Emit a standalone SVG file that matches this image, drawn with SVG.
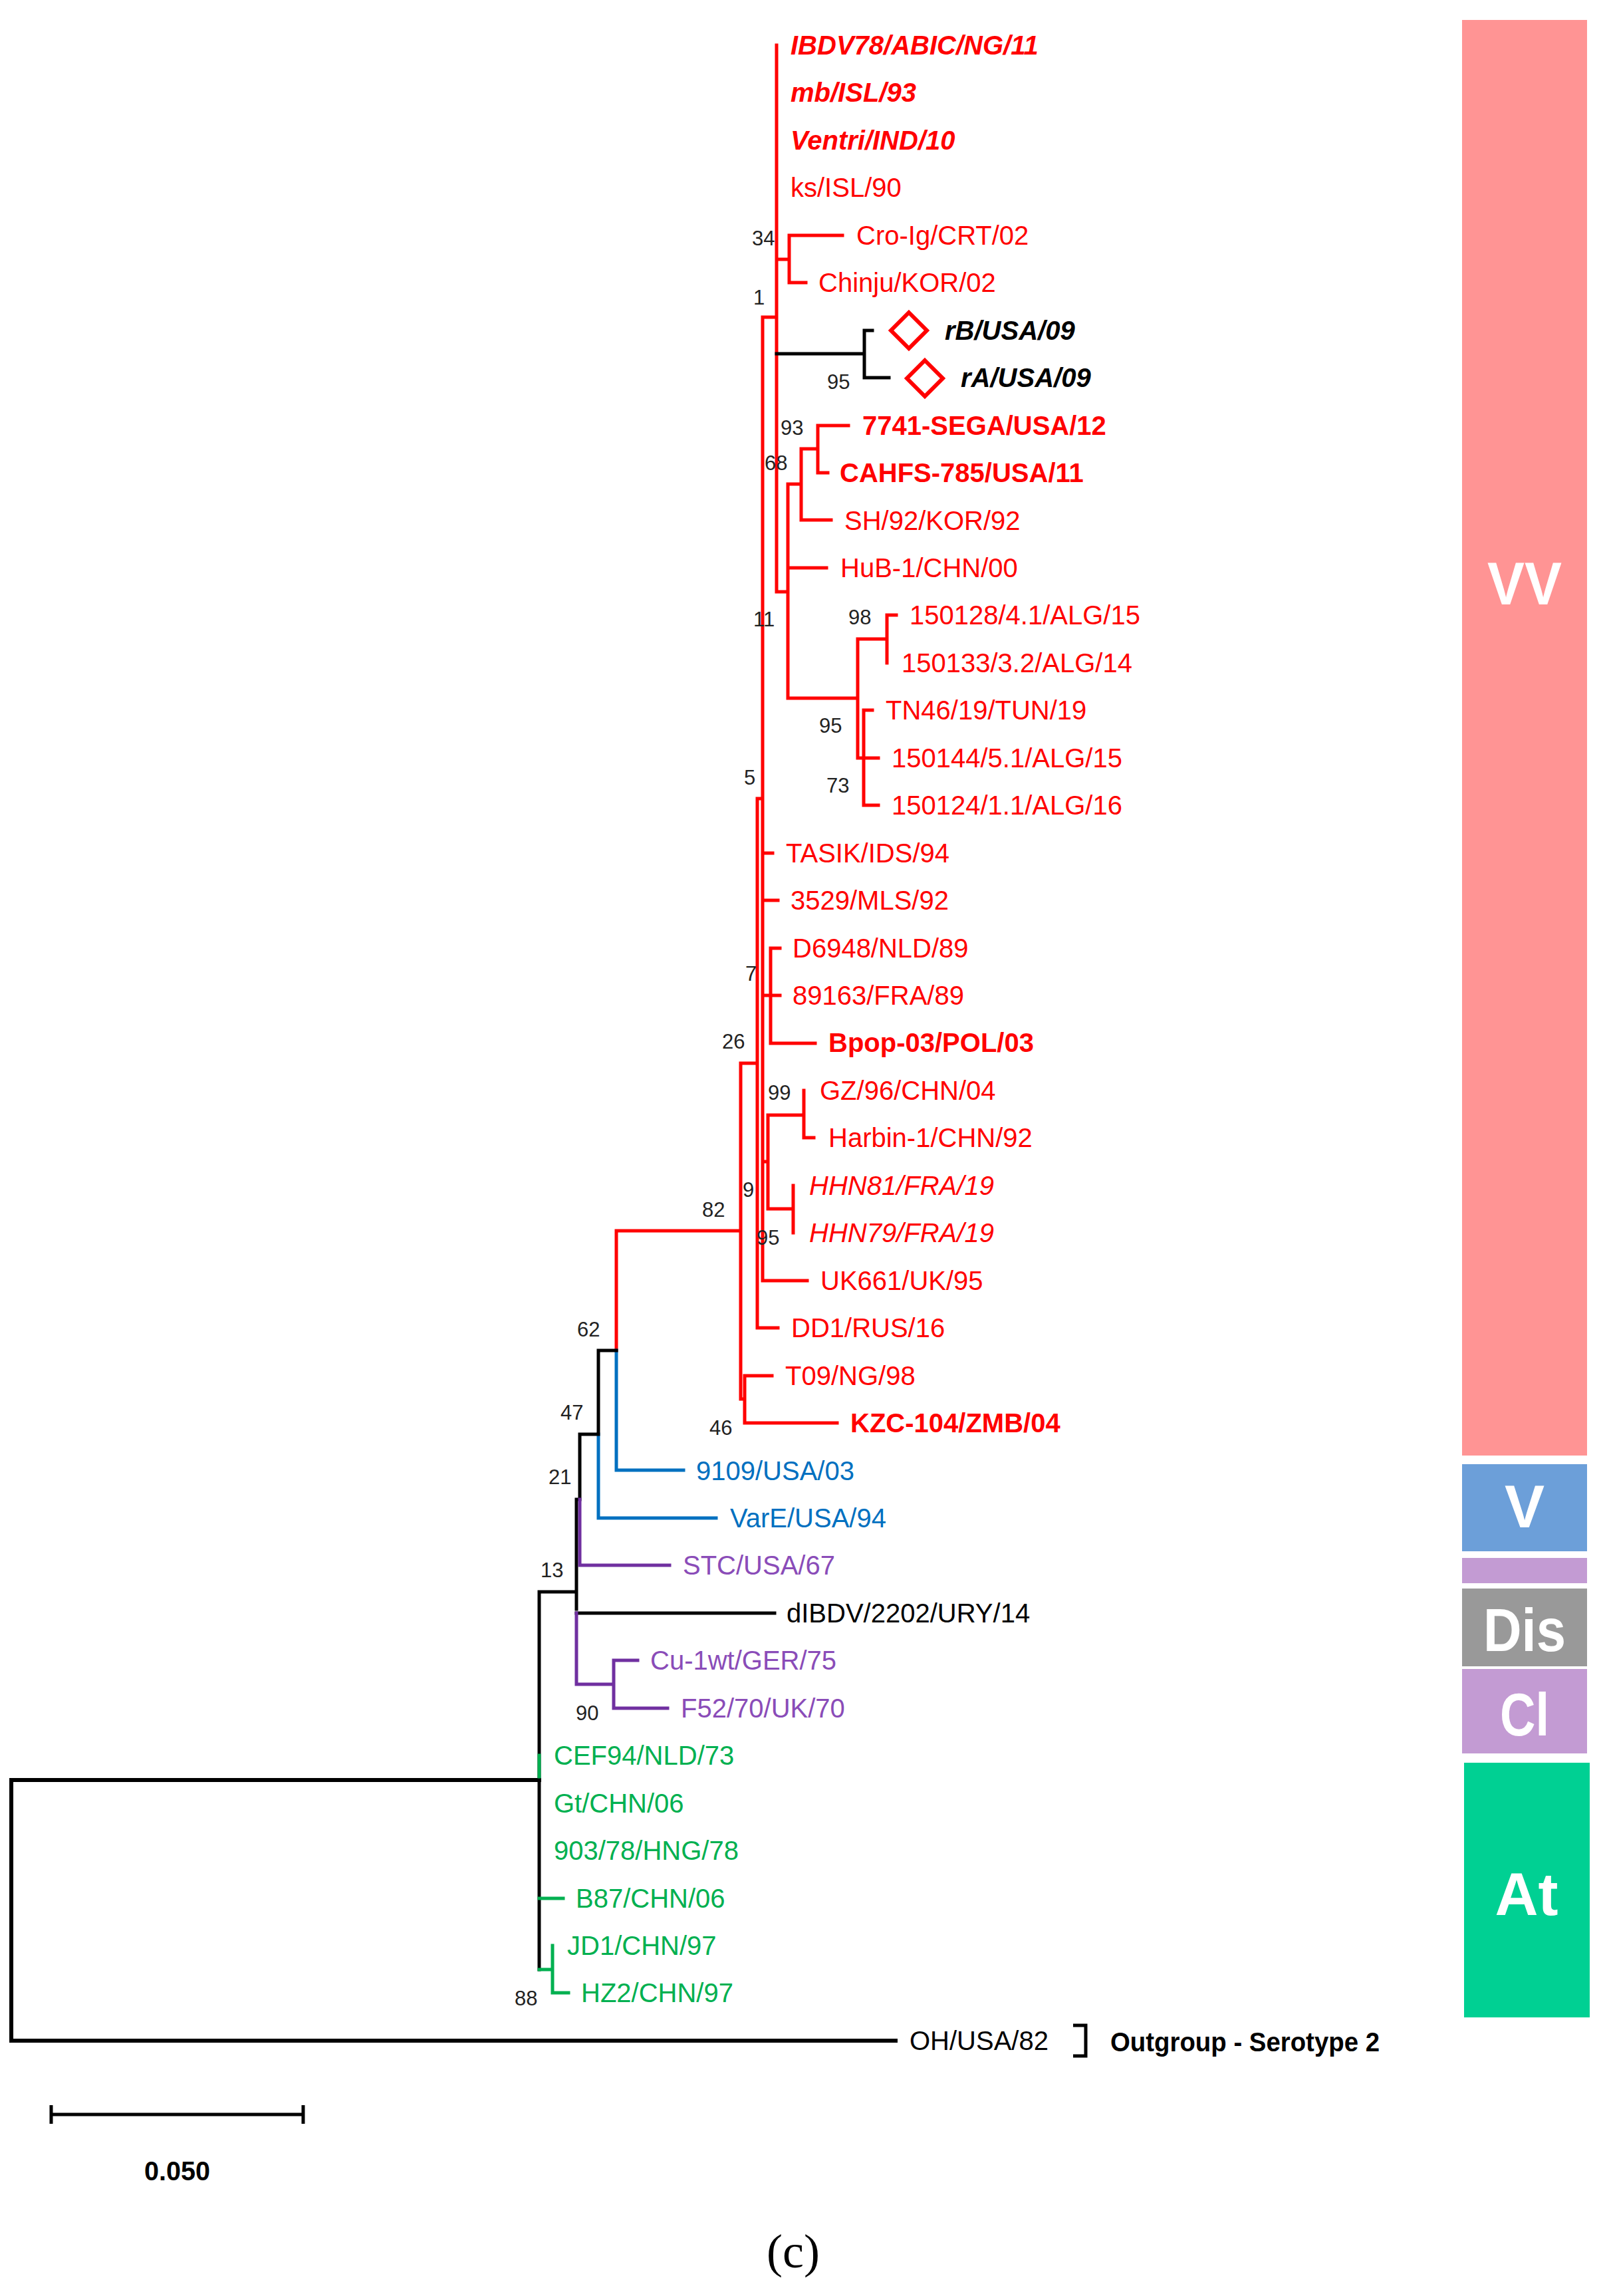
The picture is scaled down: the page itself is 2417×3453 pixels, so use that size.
<svg xmlns="http://www.w3.org/2000/svg" width="2417" height="3453" viewBox="0 0 2417 3453">
<style>
.lbl{font-family:"Liberation Sans",Arial,sans-serif;font-size:40px}
.b{font-weight:bold}
.i{font-style:italic}
.r{fill:#FF0000}
.k{fill:#000000}
.bl{fill:#0070C0}
.p{fill:#8A4CB8}
.g{fill:#00B050}
.bs{font-family:"Liberation Sans",Arial,sans-serif;font-size:31px;fill:#222222}
.br{fill:none;stroke-width:5;stroke-linecap:square}
.sr{stroke:#FF0000}
.sk{stroke:#000000}
.sb{stroke:#0070C0}
.sp{stroke:#7030A0}
.sg{stroke:#00B050}
.bar text{font-family:"Liberation Sans",Arial,sans-serif;font-weight:bold;font-size:90px;fill:#FFFFFF;text-anchor:middle}
</style>
<rect width="2417" height="3453" fill="#FFFFFF"/>
<g id="connectors">
<path class="br sr" d="M1168 68 V890 M1168 390 H1187 M1187 354 V425 M1187 354 H1267 M1187 425 H1212 M1168 890 H1185 M1185 728 V1050 M1185 728 H1205 M1205 675 V782 M1205 675 H1230 M1230 640 V711 M1230 640 H1276 M1230 711 H1245 M1205 782 H1250 M1185 854 H1243 M1185 1050 H1290 M1290 961 V1140 M1290 961 H1334 M1334 925 V997 M1334 925 H1348 M1290 1140 H1299 M1299 1068 V1211 M1299 1068 H1312 M1299 1140 H1321 M1299 1211 H1321 M1147 477 H1168 M1147 477 V1926 M1147 1283 H1162 M1147 1354 H1170 M1147 1497 H1159 M1159 1426 V1569 M1159 1426 H1173 M1159 1497 H1173 M1159 1569 H1226 M1147 1747 H1155 M1155 1677 V1818 M1155 1677 H1209 M1209 1640 V1711 M1209 1711 H1224 M1155 1818 H1193 M1193 1783 V1854 M1147 1926 H1214 M1139 1201 H1147 M1139 1201 V1997 M1139 1997 H1170 M1114 1599 H1139 M1114 1599 V2104 M1114 2104 H1120 M1120 2069 V2140 M1120 2069 H1161 M1120 2140 H1259 M927 1851 H1114 M927 1851 V2031"/>
<path class="br sk" d="M1168 532 H1300 M1300 497 V568 M1300 497 H1312 M1300 568 H1337"/>
<path class="br sb" d="M927 2031 V2211 H1028 M900 2157 V2283 H1077"/>
<path class="br sk" d="M900 2031 H927 M900 2031 V2157 M872 2157 H900 M872 2157 V2255 M867 2255 H872 M867 2255 V2420 M867 2426 H1165 M811 2394 H867 M811 2394 V2962"/>
<path class="br sk" style="stroke-width:6" d="M17 2677 H811 M17 2677 V3069 H1347"/>
<path class="br sp" d="M872 2255 V2354 H1007 M867 2426 V2533 H923 M923 2497 V2569 M923 2497 H959 M923 2569 H1004"/>
<path class="br sg" d="M811 2640 V2672 M811 2855 H847 M811 2962 H831 M831 2926 V2997 M831 2997 H855"/>
</g>
<g id="bootstrap">
<text class="bs" x="1131" y="369">34</text>
<text class="bs" x="1133" y="458">1</text>
<text class="bs" x="1244" y="585">95</text>
<text class="bs" x="1174" y="654">93</text>
<text class="bs" x="1150" y="707">68</text>
<text class="bs" x="1133" y="942">11</text>
<text class="bs" x="1276" y="939">98</text>
<text class="bs" x="1232" y="1102">95</text>
<text class="bs" x="1243" y="1192">73</text>
<text class="bs" x="1119" y="1180">5</text>
<text class="bs" x="1121" y="1475">7</text>
<text class="bs" x="1086" y="1577">26</text>
<text class="bs" x="1155" y="1654">99</text>
<text class="bs" x="1117" y="1800">9</text>
<text class="bs" x="1056" y="1830">82</text>
<text class="bs" x="1138" y="1872">95</text>
<text class="bs" x="1067" y="2158">46</text>
<text class="bs" x="868" y="2010">62</text>
<text class="bs" x="843" y="2135">47</text>
<text class="bs" x="825" y="2232">21</text>
<text class="bs" x="813" y="2372">13</text>
<text class="bs" x="866" y="2587">90</text>
<text class="bs" x="774" y="3016">88</text>
</g>
<g id="leaf-IBDV78"><text class="lbl r b i" x="1189" y="82">IBDV78/ABIC/NG/11</text></g>
<g id="leaf-mb"><text class="lbl r b i" x="1189" y="153">mb/ISL/93</text></g>
<g id="leaf-Ventri"><text class="lbl r b i" x="1189" y="225">Ventri/IND/10</text></g>
<g id="leaf-ks"><text class="lbl r" x="1189" y="296">ks/ISL/90</text></g>
<g id="leaf-Cro"><text class="lbl r" x="1288" y="368">Cro-Ig/CRT/02</text></g>
<g id="leaf-Chinju"><text class="lbl r" x="1231" y="439">Chinju/KOR/02</text></g>
<g id="leaf-rB"><polygon points="1367,470 1394,497 1367,524 1340,497" fill="#FFFFFF" stroke="#FF0000" stroke-width="6"/><text class="lbl k b i" x="1421" y="511">rB/USA/09</text></g>
<g id="leaf-rA"><polygon points="1391,542 1418,569 1391,596 1364,569" fill="#FFFFFF" stroke="#FF0000" stroke-width="6"/><text class="lbl k b i" x="1445" y="582">rA/USA/09</text></g>
<g id="leaf-7741"><text class="lbl r b" x="1297" y="654">7741-SEGA/USA/12</text></g>
<g id="leaf-CAHFS"><text class="lbl r b" x="1263" y="725">CAHFS-785/USA/11</text></g>
<g id="leaf-SH"><text class="lbl r" x="1270" y="797">SH/92/KOR/92</text></g>
<g id="leaf-HuB"><text class="lbl r" x="1264" y="868">HuB-1/CHN/00</text></g>
<g id="leaf-150128"><text class="lbl r" x="1368" y="939">150128/4.1/ALG/15</text></g>
<g id="leaf-150133"><text class="lbl r" x="1356" y="1011">150133/3.2/ALG/14</text></g>
<g id="leaf-TN46"><text class="lbl r" x="1332" y="1082">TN46/19/TUN/19</text></g>
<g id="leaf-150144"><text class="lbl r" x="1341" y="1154">150144/5.1/ALG/15</text></g>
<g id="leaf-150124"><text class="lbl r" x="1341" y="1225">150124/1.1/ALG/16</text></g>
<g id="leaf-TASIK"><text class="lbl r" x="1182" y="1297">TASIK/IDS/94</text></g>
<g id="leaf-3529"><text class="lbl r" x="1189" y="1368">3529/MLS/92</text></g>
<g id="leaf-D6948"><text class="lbl r" x="1192" y="1440">D6948/NLD/89</text></g>
<g id="leaf-89163"><text class="lbl r" x="1192" y="1511">89163/FRA/89</text></g>
<g id="leaf-Bpop"><text class="lbl r b" x="1246" y="1582">Bpop-03/POL/03</text></g>
<g id="leaf-GZ"><text class="lbl r" x="1233" y="1654">GZ/96/CHN/04</text></g>
<g id="leaf-Harbin"><text class="lbl r" x="1246" y="1725">Harbin-1/CHN/92</text></g>
<g id="leaf-HHN81"><text class="lbl r i" x="1217" y="1797">HHN81/FRA/19</text></g>
<g id="leaf-HHN79"><text class="lbl r i" x="1217" y="1868">HHN79/FRA/19</text></g>
<g id="leaf-UK661"><text class="lbl r" x="1234" y="1940">UK661/UK/95</text></g>
<g id="leaf-DD1"><text class="lbl r" x="1190" y="2011">DD1/RUS/16</text></g>
<g id="leaf-T09"><text class="lbl r" x="1181" y="2083">T09/NG/98</text></g>
<g id="leaf-KZC"><text class="lbl r b" x="1279" y="2154">KZC-104/ZMB/04</text></g>
<g id="leaf-9109"><text class="lbl bl" x="1047" y="2226">9109/USA/03</text></g>
<g id="leaf-VarE"><text class="lbl bl" x="1098" y="2297">VarE/USA/94</text></g>
<g id="leaf-STC"><text class="lbl p" x="1027" y="2368">STC/USA/67</text></g>
<g id="leaf-dIBDV"><text class="lbl k" x="1183" y="2440">dIBDV/2202/URY/14</text></g>
<g id="leaf-Cu1wt"><text class="lbl p" x="978" y="2511">Cu-1wt/GER/75</text></g>
<g id="leaf-F52"><text class="lbl p" x="1024" y="2583">F52/70/UK/70</text></g>
<g id="leaf-CEF94"><text class="lbl g" x="833" y="2654">CEF94/NLD/73</text></g>
<g id="leaf-Gt"><text class="lbl g" x="833" y="2726">Gt/CHN/06</text></g>
<g id="leaf-903"><text class="lbl g" x="833" y="2797">903/78/HNG/78</text></g>
<g id="leaf-B87"><text class="lbl g" x="866" y="2869">B87/CHN/06</text></g>
<g id="leaf-JD1"><text class="lbl g" x="853" y="2940">JD1/CHN/97</text></g>
<g id="leaf-HZ2"><text class="lbl g" x="874" y="3011">HZ2/CHN/97</text></g>
<g id="leaf-OH"><text class="lbl k" x="1368" y="3083">OH/USA/82</text></g>
<g id="outgroup"><path d="M1614 3046 H1633 V3092 H1614" fill="none" stroke="#000000" stroke-width="5"/><text class="lbl k b" x="1670" y="3085" font-size="37" textLength="405" lengthAdjust="spacingAndGlyphs">Outgroup - Serotype 2</text></g>
<g id="scale"><path d="M77 3180 H456 M77 3166 V3194 M456 3166 V3194" fill="none" stroke="#000000" stroke-width="5"/><text x="217" y="3279" font-family="Liberation Sans, Arial, sans-serif" font-weight="bold" font-size="40" textLength="99" lengthAdjust="spacingAndGlyphs" fill="#000000">0.050</text></g>
<g id="bar-VV" class="bar"><rect x="2199" y="30" width="188" height="2159" fill="#FF9494"/><text x="2293" y="909" textLength="112" lengthAdjust="spacingAndGlyphs">VV</text></g>
<g id="bar-V" class="bar"><rect x="2199" y="2202" width="188" height="131" fill="#6C9FD9"/><text x="2293" y="2297">V</text></g>
<g id="bar-mini" class="bar"><rect x="2199" y="2343" width="188" height="38" fill="#C39BD3"/></g>
<g id="bar-Dis" class="bar"><rect x="2199" y="2389" width="188" height="117" fill="#999999"/><text x="2293" y="2483" textLength="124" lengthAdjust="spacingAndGlyphs">Dis</text></g>
<g id="bar-Cl" class="bar"><rect x="2199" y="2510" width="188" height="127" fill="#C39BD3"/><text x="2293" y="2610" textLength="74" lengthAdjust="spacingAndGlyphs">Cl</text></g>
<g id="bar-At" class="bar"><rect x="2202" y="2651" width="189" height="383" fill="#00D093"/><text x="2296" y="2880">At</text></g>
<text x="1193" y="3410" font-family="Liberation Serif, Times New Roman, serif" font-size="72" text-anchor="middle" fill="#000000">(c)</text>
</svg>
